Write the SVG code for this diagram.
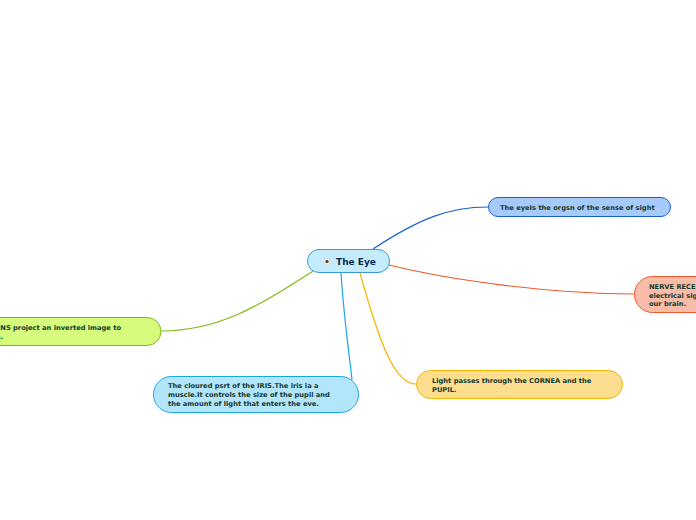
<svg xmlns="http://www.w3.org/2000/svg" width="696" height="520" viewBox="0 0 696 520">
<style>
.t{font-family:"DejaVu Sans",Verdana,sans-serif;font-weight:bold;font-size:6.7px;fill:#123a2e}
.c{fill:none;stroke-width:1.2}
</style>
<rect width="696" height="520" fill="#fff"/>
<g id="connectors">
<path class="c" stroke="#1560d0" d="M373,249 C420,218 450,207 488,207"/>
<path class="c" stroke="#f05a28" d="M389,265 C450,280 550,294 634,294"/>
<path class="c" stroke="#f7b500" d="M360,273 C380,345 395,384 416,384"/>
<path class="c" stroke="#1aa6e6" d="M341,273 C344,320 350,360 352,380"/>
<path class="c" stroke="#84b818" d="M313,271 C260,305 220,331 161,331"/>
</g>
<g id="center">
<rect x="307.5" y="249.5" width="82" height="23" rx="11.5" fill="#c5ecfd" stroke="#3a9bd8"/>
<circle cx="327" cy="261.5" r="3.2" fill="#eee" stroke="#ccc" stroke-width="0.5"/>
<circle cx="327" cy="261.5" r="1.6" fill="#5a3218"/>
<text x="336" y="265" font-family="DejaVu Sans,Verdana,sans-serif" font-weight="bold" font-size="9" fill="#0d2a4a">The Eye</text>
</g>
<g id="sight">
<rect x="488.5" y="197.5" width="182" height="19" rx="9.5" fill="#a6cbfb" stroke="#1560d0"/>
<text class="t" x="500" y="210">The eyeIs the orgsn of the sense of sight</text>
</g>
<g id="nerve">
<rect x="634.5" y="276.5" width="80" height="36" rx="18" fill="#f9bca8" stroke="#f05a28"/>
<text class="t" x="649" y="289">NERVE RECEPTORS send</text>
<text class="t" x="649" y="297.5">electrical signals to</text>
<text class="t" x="649" y="306">our brain.</text>
</g>
<g id="light">
<rect x="416.5" y="370.5" width="206" height="28" rx="14" fill="#fddd8e" stroke="#f7b500"/>
<text class="t" x="432" y="383">Light passes through the CORNEA and the</text>
<text class="t" x="432" y="391.5">PUPIL.</text>
</g>
<g id="lens">
<rect x="-40" y="317.5" width="201" height="28" rx="14" fill="#d5fc7c" stroke="#84b818"/>
<text class="t" x="121" y="330" text-anchor="end">The LENS project an inverted image to</text>
<text class="t" x="3" y="338.5" text-anchor="end">the retina.</text>
</g>
<g id="iris">
<rect x="153.5" y="376.5" width="205" height="36" rx="18" fill="#b3e5fb" stroke="#1aa6e6"/>
<text class="t" x="168" y="388">The cloured psrt of the IRIS.The iris ia a</text>
<text class="t" x="168" y="397">muscle.It controls the size of the pupil and</text>
<text class="t" x="168" y="406">the amount of light that enters the eve.</text>
</g>
</svg>
